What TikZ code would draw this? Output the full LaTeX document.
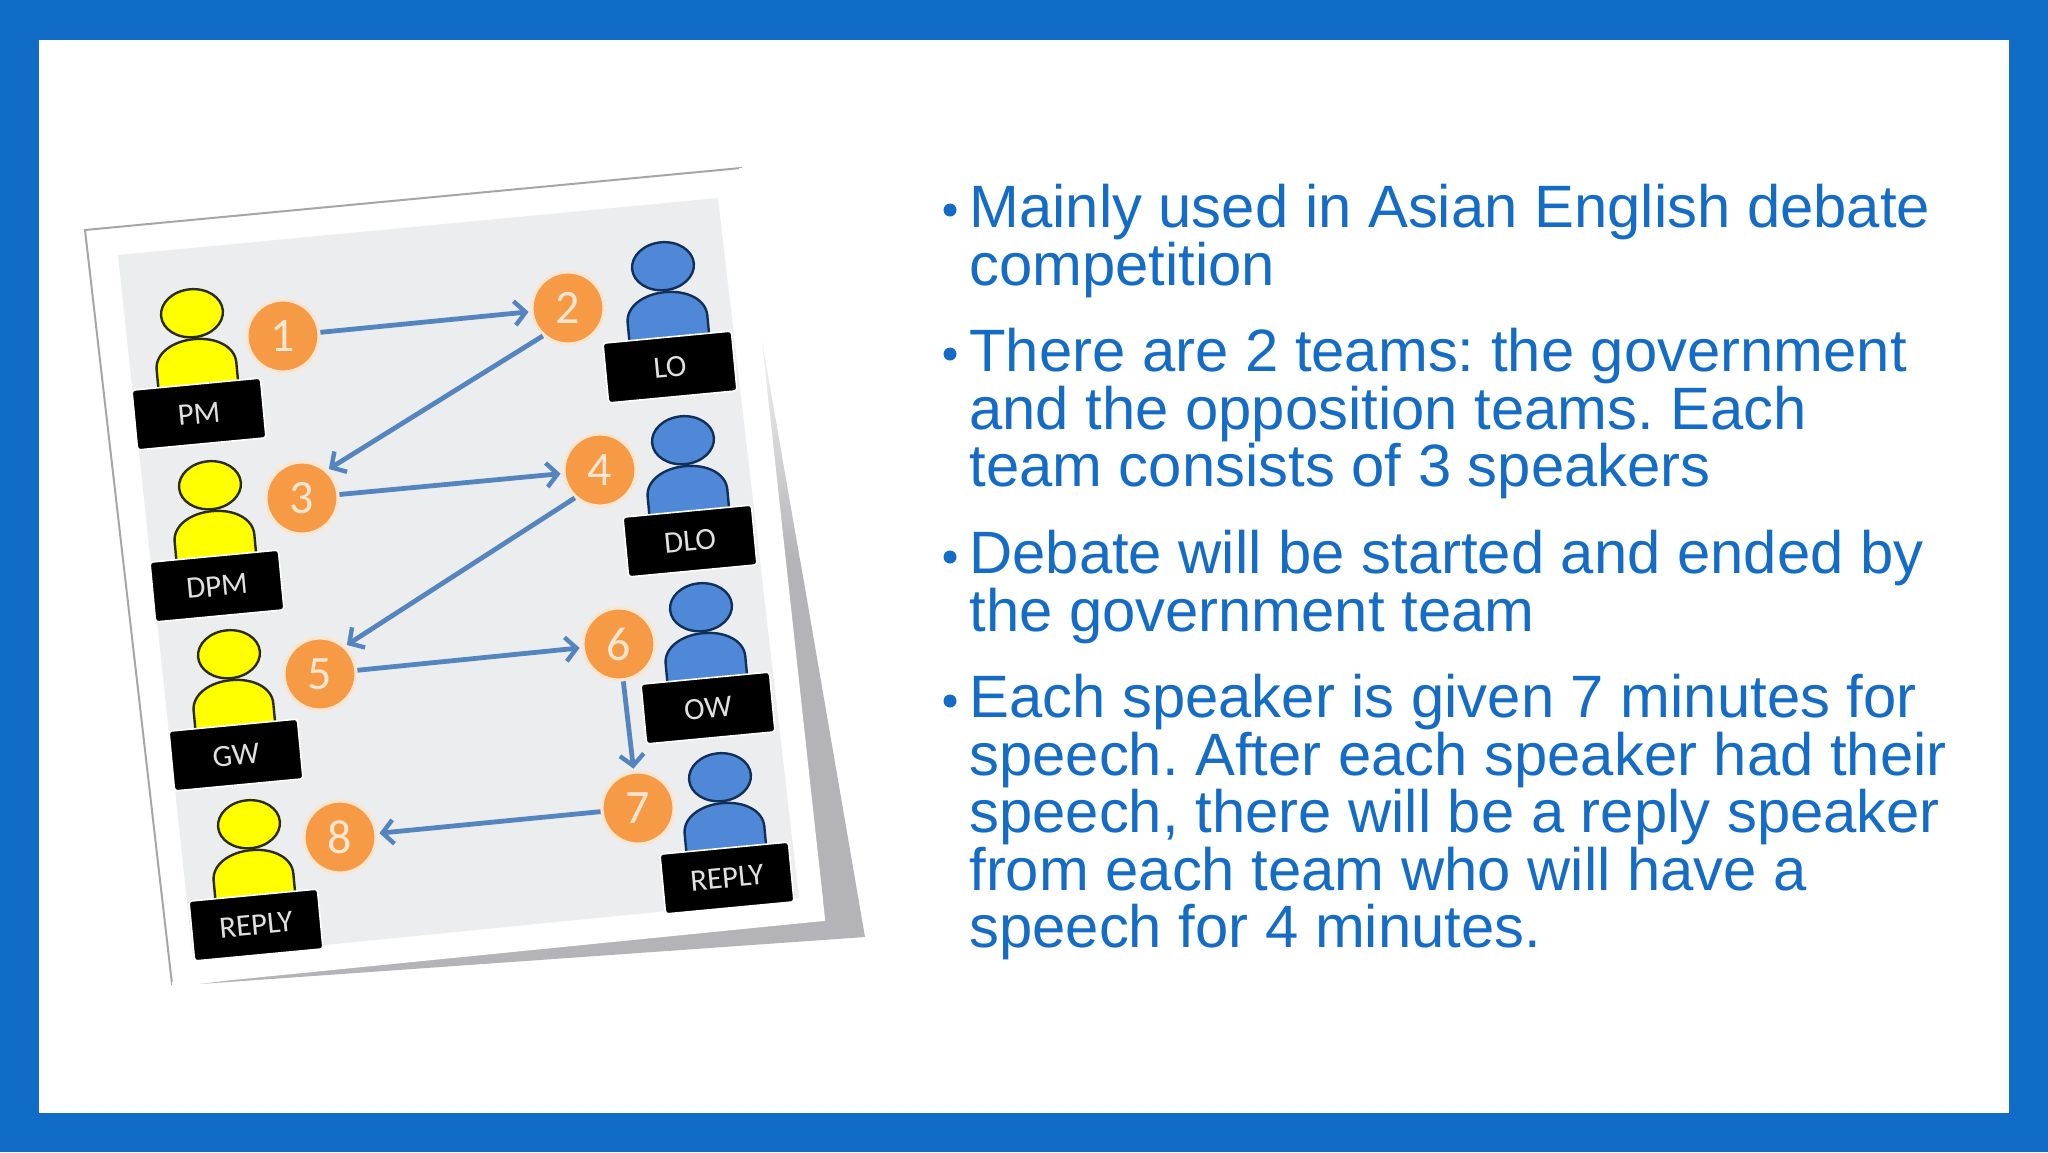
\documentclass[tikz,border=0pt]{standalone}
\usepackage{fontspec}
\setmainfont{Liberation Sans}
\newfontfamily\labelfont{Carlito}
\usetikzlibrary{arrows.meta}
\definecolor{bandblue}{HTML}{116CC8}
\definecolor{textblue}{HTML}{156CC6}
\definecolor{turnorange}{HTML}{F79A45}
\definecolor{turnrim}{HTML}{FBE6D2}
\definecolor{linkblue}{HTML}{5585BF}
\definecolor{govyellow}{HTML}{FFFF00}
\definecolor{govline}{HTML}{2B2B10}
\definecolor{oppblue}{HTML}{4E88D6}
\definecolor{oppline}{HTML}{10305A}
\definecolor{sheetgray}{HTML}{ECEDEF}
\definecolor{shadowgray}{HTML}{B4B4B8}
\frenchspacing
\begin{document}
\begin{tikzpicture}[
    x=0.5pt, y=-0.5pt,
    turn/.style={circle, fill=turnorange, draw=turnrim, line width=1.6pt, inner sep=0pt, minimum size=36pt,
      text=turnrim, font=\labelfont\fontsize{24}{24}\selectfont},
    namelabel/.style={rectangle, rounded corners=1.5pt, fill=black, draw=white, line width=0.8pt, inner sep=0pt,
      minimum width=64.5pt, minimum height=30pt, rotate=5.4, text=white!88!black, font=\labelfont\fontsize{15.5}{15.5}\selectfont},
    link/.style={draw=linkblue, line width=2.4pt, -{Straight Barb[length=5.5pt,width=12pt,line width=2.2pt]}, shorten >=1pt},
    bulletdot/.style={circle, fill=textblue, inner sep=0pt, minimum size=6.5pt},
    point/.style={anchor=north west, align=left, inner sep=0pt, text=textblue, font=\fontsize{29.9}{28.75}\selectfont}
  ]
    % Slide frame
    \fill[bandblue] (0,0) rectangle (2048,1152);
    \fill[white] (39,40) rectangle (2009,1113);
    % Sheet with its shadow
    \shade[top color=white, bottom color=shadowgray] (755,300) -- (800,560) -- (783,560) -- cycle;
    \fill[shadowgray] (783,559) -- (800,559) -- (865,937) -- (200,984) -- (823,900) -- cycle;
    \draw[fill=white, draw=black!35, line width=1pt] (85,230) -- (741,168) -- (823,919) -- (172,984) -- cycle;
    \draw[white, line width=2pt] (741,168) -- (823,919) -- (172,984);
    \fill[sheetgray] (118,255) -- (718,198) -- (799,898) -- (193,958) -- cycle;
    % Speakers
    \foreach \px/\py/\bodyc/\linec/\txt/\nm in {
        199/414/govyellow/govline/PM/pm,
        670/367/oppblue/oppline/LO/lo,
        217/586/govyellow/govline/DPM/dpm,
        690/541/oppblue/oppline/DLO/dlo,
        236/755/govyellow/govline/GW/gw,
        708/708/oppblue/oppline/OW/ow,
        256/925/govyellow/govline/REPLY/gr,
        727/878/oppblue/oppline/REPLY/or} {
      \begin{scope}[shift={(\px,\py)}, rotate=5.4]
        \draw[fill=\bodyc, draw=\linec, line width=1.2pt] (2.5,-101) ellipse [x radius=31, y radius=24];
        \draw[fill=\bodyc, draw=\linec, line width=1.2pt] (-38,-29) -- (-38,-48)
          .. controls (-38,-64) and (-20,-75) .. (2,-75)
          .. controls (24,-75) and (42,-64) .. (42,-48) -- (42,-29) -- cycle;
        \node[namelabel] (lbl\nm) at (0,0) {\txt};
      \end{scope}
    }
    % Speaking order
    \node[turn] (t1) at (283,336) {1};
    \node[turn] (t2) at (568,308) {2};
    \node[turn] (t3) at (302,498) {3};
    \node[turn] (t4) at (600,470) {4};
    \node[turn] (t5) at (320,674) {5};
    \node[turn] (t6) at (619,644) {6};
    \node[turn] (t7) at (638,808) {7};
    \node[turn] (t8) at (340,837) {8};
    \draw[link] (t1) -- (t2);
    \draw[link] (t2.228) -- (t3.48);
    \draw[link] (t3) -- (t4);
    \draw[link] (t4.228) -- (t5.48);
    \draw[link] (t5) -- (t6);
    \draw[link] (t6) -- (t7);
    \draw[link] (t7) -- (t8);
    % Text column
    \node[bulletdot] (d1) at (950,210) {};
    \node[bulletdot] (d2) at (950,354) {};
    \node[bulletdot] (d3) at (950,557) {};
    \node[bulletdot] (d4) at (950,701) {};
    \node[point] (p1) at (969,184) {Mainly used in Asian English debate\\competition};
    \node[point] (p2) at (969,328) {There are 2 teams: the government\\and the opposition teams. Each\\team consists of 3 speakers};
    \node[point] (p3) at (969,530) {Debate will be started and ended by\\the government team};
    \node[point] (p4) at (969,674) {Each speaker is given 7 minutes for\\speech. After each speaker had their\\speech, there will be a reply speaker\\from each team who will have a\\speech for 4 minutes.};
  \end{tikzpicture}
\end{document}
